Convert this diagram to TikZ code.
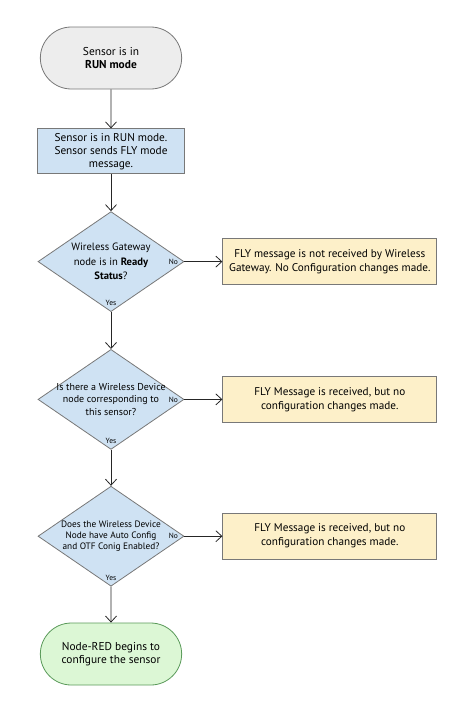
\documentclass[tikz,border=0pt]{standalone}
\usepackage{fontspec}
\setmainfont{PT Sans}
\usetikzlibrary{arrows.meta,positioning,shapes.geometric,shapes.misc}

\definecolor{termgray}{HTML}{EDEDED}
\definecolor{procblue}{HTML}{CFE2F3}
\definecolor{noteyellow}{HTML}{FDF0C9}
\definecolor{donegreen}{HTML}{DCF7D5}
\definecolor{edgegray}{HTML}{787878}

\tikzset{
	terminal/.style={rounded rectangle, draw=edgegray, fill=termgray, line width=0.8pt,
		minimum width=148pt, minimum height=62pt, align=center,
		font=\fontsize{11.4}{13.5}\selectfont},
	process/.style={rectangle, draw=edgegray, fill=procblue, line width=0.8pt,
		minimum width=147pt, minimum height=45pt, align=center,
		font=\fontsize{11.3}{13}\selectfont},
	decision/.style={diamond, draw=edgegray, fill=procblue, line width=0.8pt,
		minimum width=146pt, minimum height=100pt, aspect=1.46, inner sep=-6pt,
		align=center, font=\fontsize{10}{12.5}\selectfont},
	outcome/.style={rectangle, draw=edgegray, fill=noteyellow, line width=0.8pt,
		minimum width=214pt, minimum height=46pt, align=center,
		font=\fontsize{11.2}{14}\selectfont},
	tag/.style={font=\fontsize{7.5}{8}\selectfont, inner sep=0pt},
	flow/.style={-{Straight Barb[length=6pt,width=11pt]}, line width=0.8pt, draw=black!85}
}

\begin{document}
\begin{tikzpicture}[x=1pt, y=-1pt, node distance=37pt]
	\useasboundingbox (0,0) rectangle (474,710);

	\node[terminal]                 (run)      at (111,58)         {Sensor is in\\\textbf{RUN mode}};
	\node[process]                  (sends)    [below=39pt of run] {Sensor is in RUN mode.\\Sensor sends FLY mode\\message.};
	\node[decision, font=\fontsize{10.6}{14.5}\selectfont]
	                                (ready)    [below=of sends]    {Wireless Gateway\\node is in \textbf{Ready}\\\textbf{Status}?};
	\node[decision]                 (device)   [below=of ready]    {Is there a Wireless Device\\node corresponding to\\this sensor?};
	\node[decision, font=\fontsize{9.3}{11}\selectfont]
	                                (autocfg)  [below=36pt of device] {Does the Wireless Device\\Node have Auto Config\\and OTF Conig Enabled?};
	\node[terminal, fill=donegreen, draw=green!25!edgegray]
	                                (begin)    [below=36pt of autocfg] {Node-RED begins to\\configure the sensor};

	\node[outcome]                  (notrecv)  [right=38pt of ready]   {FLY message is not received by Wireless\\Gateway. No Configuration changes made.};
	\node[outcome]                  (nochange) [right=38pt of device]  {FLY Message is received, but no\\configuration changes made.};
	\node[outcome]                  (nocfg)    [right=38pt of autocfg] {FLY Message is received, but no\\configuration changes made.};

	\draw (run) edge[flow] (sends)
		(sends) edge[flow] (ready)

		(ready) edge[flow] node[tag, pos=0, left=6pt]{No} (notrecv)
		(ready) edge[flow] node[tag, pos=0, above=6pt]{Yes} (device)

		(device) edge[flow] node[tag, pos=0, left=6pt]{No} (nochange)
		(device) edge[flow] node[tag, pos=0, above=6pt]{Yes} (autocfg)

		(autocfg) edge[flow] node[tag, pos=0, left=6pt]{No} (nocfg)
		(autocfg) edge[flow] node[tag, pos=0, above=6pt]{Yes} (begin);
\end{tikzpicture}
\end{document}
